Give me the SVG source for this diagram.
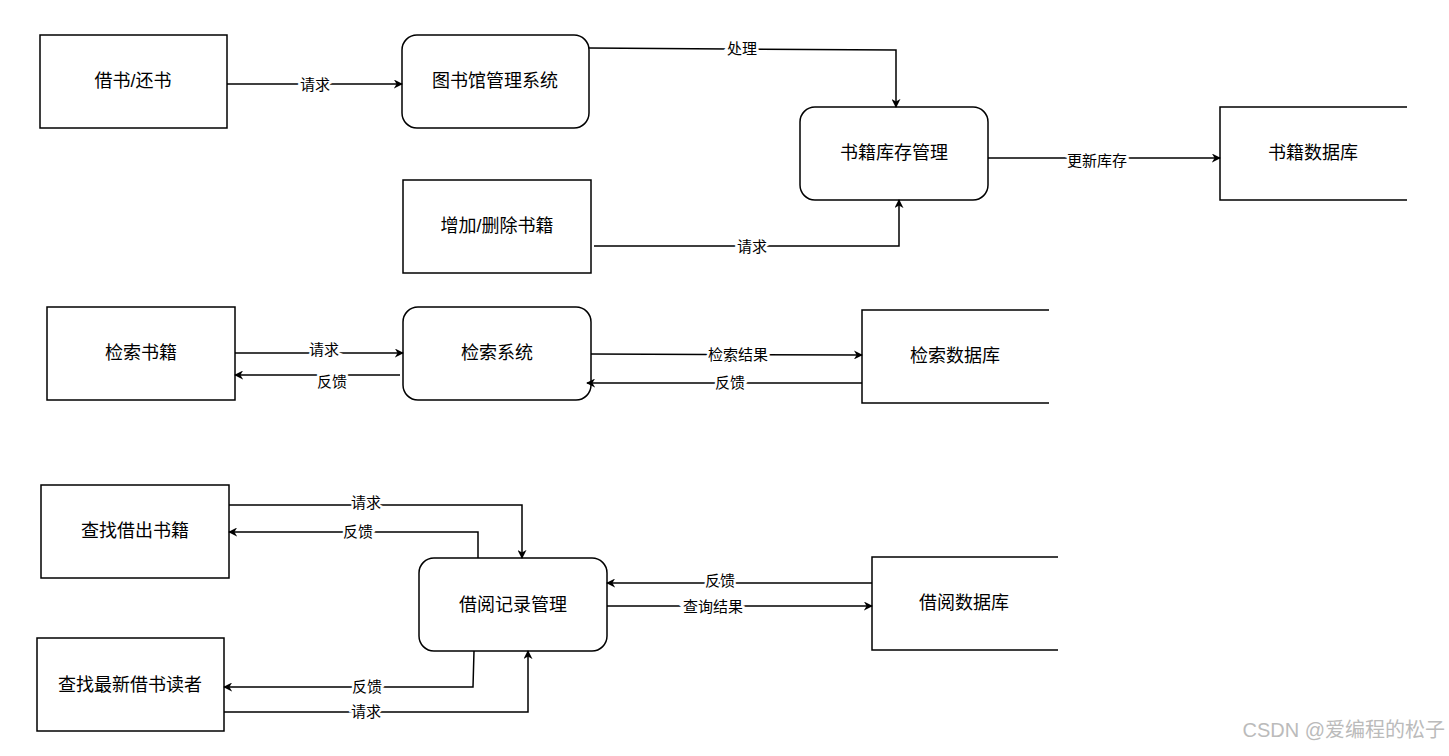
<svg xmlns="http://www.w3.org/2000/svg" width="1449" height="756" viewBox="0 0 1449 756">
<style>
.b{fill:#fff;stroke:#000;stroke-width:1.5}
.s{fill:none;stroke:#000;stroke-width:1.5}
.t{font-family:"Liberation Sans","Noto Sans CJK SC",sans-serif;font-size:18px;text-anchor:middle;dominant-baseline:central;fill:#000}
.l{font-family:"Liberation Sans","Noto Sans CJK SC",sans-serif;font-size:15px;text-anchor:middle;dominant-baseline:central;fill:#000;stroke:#fff;stroke-width:5;paint-order:stroke}
.c{fill:none;stroke:#000;stroke-width:1.5;marker-end:url(#a)}
</style>
<defs><marker id="a" viewBox="0 0 10 10" refX="9" refY="5" markerWidth="9" markerHeight="9" markerUnits="userSpaceOnUse" orient="auto"><path d="M0,0L10,5L0,10L3,5z" fill="#000"/></marker></defs>
<rect width="1449" height="756" fill="#fff"/>
<g id="n1"><rect class="b" x="40" y="35" width="187" height="93"/><text class="t" x="133" y="81">借书/还书</text></g>
<g id="n2"><rect class="b" x="402" y="35" width="187" height="93" rx="15"/><text class="t" x="495" y="81">图书馆管理系统</text></g>
<g id="n3"><rect class="b" x="800" y="107" width="188" height="93" rx="15"/><text class="t" x="894" y="153">书籍库存管理</text></g>
<g id="n4"><path class="s" d="M1407,107H1220V200H1407"/><text class="t" x="1313" y="153">书籍数据库</text></g>
<g id="n5"><rect class="b" x="403" y="180" width="188" height="93"/><text class="t" x="497" y="226">增加/删除书籍</text></g>
<g id="n6"><rect class="b" x="47" y="307" width="188" height="93"/><text class="t" x="141" y="353">检索书籍</text></g>
<g id="n7"><rect class="b" x="403" y="307" width="188" height="93" rx="15"/><text class="t" x="497" y="353">检索系统</text></g>
<g id="n8"><path class="s" d="M1049,310H862V403H1049"/><text class="t" x="955" y="356">检索数据库</text></g>
<g id="n9"><rect class="b" x="41" y="485" width="188" height="93"/><text class="t" x="135" y="531">查找借出书籍</text></g>
<g id="n10"><rect class="b" x="419" y="558" width="188" height="93" rx="15"/><text class="t" x="513" y="605">借阅记录管理</text></g>
<g id="n11"><path class="s" d="M1058,557H872V650H1058"/><text class="t" x="964" y="603">借阅数据库</text></g>
<g id="n12"><rect class="b" x="37" y="638" width="187" height="93"/><text class="t" x="130" y="685">查找最新借书读者</text></g>
<g id="edges">
<path class="c" d="M227,84H402"/><text class="l" x="315" y="84">请求</text>
<path class="c" d="M589,48L896,50V107"/><text class="l" x="742" y="48">处理</text>
<path class="c" d="M988,158H1220"/><text class="l" x="1097" y="160">更新库存</text>
<path class="c" d="M594,246H899V200"/><text class="l" x="752" y="246">请求</text>
<path class="c" d="M235,353H403"/><text class="l" x="324" y="349">请求</text>
<path class="c" d="M400,375H235"/><text class="l" x="332" y="381">反馈</text>
<path class="c" d="M591,354L862,355"/><text class="l" x="738" y="354">检索结果</text>
<path class="c" d="M862,383H587"/><text class="l" x="730" y="382">反馈</text>
<path class="c" d="M229,505H522V558"/><text class="l" x="366" y="502">请求</text>
<path class="c" d="M478,558V532H229"/><text class="l" x="358" y="531">反馈</text>
<path class="c" d="M872,583H607"/><text class="l" x="720" y="580">反馈</text>
<path class="c" d="M607,606H872"/><text class="l" x="713" y="606">查询结果</text>
<path class="c" d="M474,651L473,687H224"/><text class="l" x="367" y="686">反馈</text>
<path class="c" d="M224,712H528V651"/><text class="l" x="366" y="711">请求</text>
</g>
<text x="1445" y="730" font-family="Liberation Sans,Noto Sans CJK SC,sans-serif" font-size="20" fill="#bbb" text-anchor="end" dominant-baseline="central">CSDN @爱编程的松子</text>
</svg>
